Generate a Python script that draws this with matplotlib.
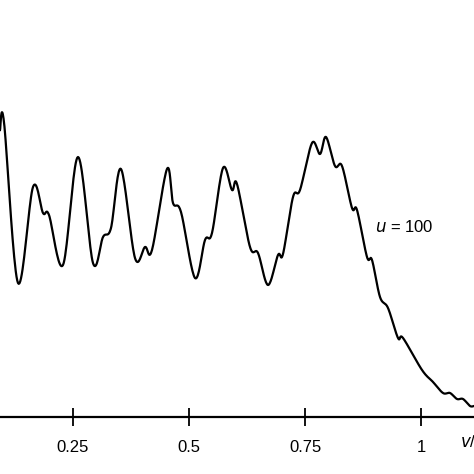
import numpy as np
import matplotlib
matplotlib.use("Agg")
import matplotlib.pyplot as plt

# curve (x in v units, y in arbitrary intensity units)
px = [0, 4, 18, 33, 43, 49, 63, 78, 93, 103, 111, 121, 135, 145, 152, 167, 173, 181,
      195, 205, 212, 223, 232, 237, 250, 258, 268, 278, 283, 293, 300, 312, 320, 326,
      335, 342, 352, 357, 367, 372, 380, 388, 398, 403, 422, 433, 443, 450, 457, 463,
      470, 474]
py = [130, 122, 283, 187, 213, 215, 265, 157, 263, 237, 228, 169, 258, 247, 250, 169,
      203, 212, 278, 240, 233, 168, 190, 184, 247, 253, 285, 255, 254, 197, 190, 143,
      154, 137, 166, 166, 208, 210, 257, 260, 297, 308, 338, 338, 370, 382, 393, 393,
      399, 399, 406, 406]
x_vals = (np.array(px) + 43) / 464.0
y_vals = 417.0 - np.array(py)

tick_pos = [0.25, 0.5, 0.75, 1.0]
tick_labels = ["0.25", "0.5", "0.75", "1"]


def catmull(x, y, n=20):
    # smooth the hand-read points with a Catmull-Rom spline
    pts = np.column_stack([x, y])
    pts = np.vstack([pts[0], pts, pts[-1]])
    out = []
    t = np.linspace(0, 1, n, endpoint=False)[:, None]
    for i in range(1, len(pts) - 2):
        p0, p1, p2, p3 = pts[i - 1], pts[i], pts[i + 1], pts[i + 2]
        seg = 0.5 * ((2 * p1) + (-p0 + p2) * t + (2 * p0 - 5 * p1 + 4 * p2 - p3) * t ** 2
                     + (-p0 + 3 * p1 - 3 * p2 + p3) * t ** 3)
        out.append(seg)
    out.append(pts[-2][None, :])
    out = np.vstack(out)
    return out[:, 0], out[:, 1]


sx, sy = catmull(x_vals, y_vals)

fig = plt.figure(figsize=(4.74, 4.74), dpi=100)
ax = fig.add_axes([0, 0, 1, 1])
ax.plot(sx, sy, color="black", lw=1.6)
ax.set_xlim(0.0927, 1.1142)
ax.set_ylim(-57, 417)

for s in ["top", "right", "left"]:
    ax.spines[s].set_visible(False)
ax.spines["bottom"].set_position(("data", 0))
ax.spines["bottom"].set_linewidth(1.6)
ax.set_yticks([])
ax.set_xticks(tick_pos)
ax.set_xticklabels(tick_labels, fontsize=12, family="Liberation Sans")
ax.tick_params(axis="x", direction="inout", length=13, width=1.3, pad=10)

ax.text(0.9, 190, "$u$ = 100", fontsize=12, family="Liberation Sans", va="center")
ax.text(1.085, -25, "$v$/", fontsize=12, family="Liberation Sans", va="center")

fig.savefig("out.png", dpi=100)
